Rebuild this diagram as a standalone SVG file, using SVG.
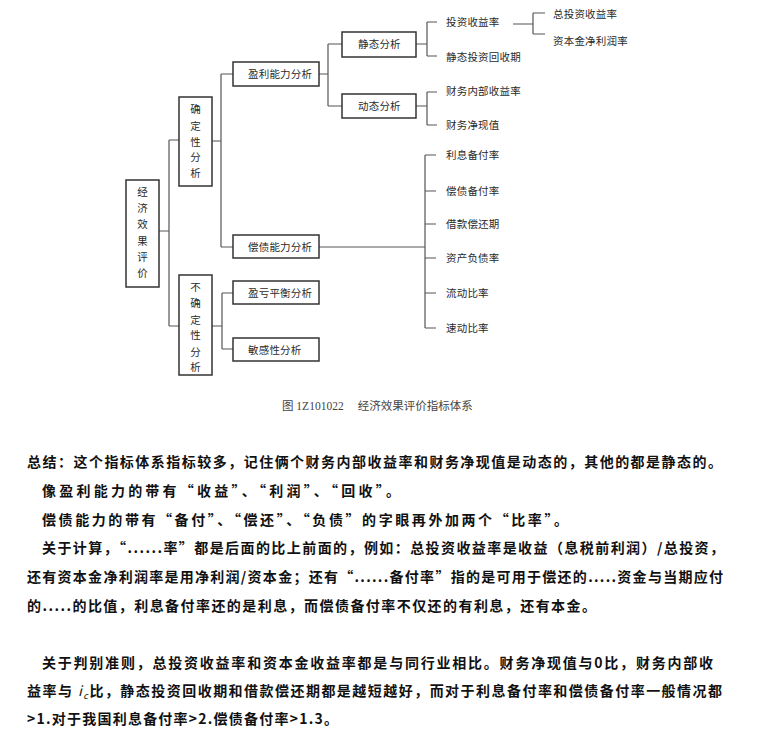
<svg xmlns="http://www.w3.org/2000/svg" width="760" height="740" viewBox="0 0 760 740">
<style>
.box{fill:#fff;stroke:#333;stroke-width:1.5}
.con{fill:none;stroke:#555;stroke-width:1.2}
.t{font-family:"Noto Sans CJK SC","Noto Sans",sans-serif;font-size:10.5px;fill:#2a2a2a;letter-spacing:0.2px}
.v{font-family:"Noto Sans CJK SC","Noto Sans",sans-serif;font-size:10.5px;fill:#2a2a2a;text-anchor:middle}
.cap{font-family:"Liberation Serif","Noto Sans CJK SC",serif;font-size:11.5px;fill:#444}
.n{font-family:"Noto Sans CJK SC",sans-serif;font-size:14px;font-weight:700;fill:#111}
</style>
<rect width="760" height="740" fill="#fff"/>
<g id="connectors">
<path class="con" d="M159,231H169M169,140V326M169,140H179M169,326H179"/>
<path class="con" d="M212,141H221M221,74V247M221,74H233M221,247H233"/>
<path class="con" d="M212,326H222M222,293V349M222,293H233M222,349H233"/>
<path class="con" d="M319,74H328M328,44V106M328,44H342M328,106H342"/>
<path class="con" d="M416,44H427M427,22V56M427,22H437M427,56H437"/>
<path class="con" d="M416,106H427M427,92V125M427,92H437M427,125H437"/>
<path class="con" d="M513,24H533M533,13V34M533,13H545M533,34H545"/>
<path class="con" d="M319,247H425M425,155V328M425,155H436M425,191H436M425,224H436M425,258H436M425,293H436M425,328H436"/>
</g>
<g id="n-root"><rect class="box" x="126" y="180" width="33" height="107"/>
<text class="v" x="142.5"><tspan x="142.5" y="196">经</tspan><tspan x="142.5" y="212">济</tspan><tspan x="142.5" y="228">效</tspan><tspan x="142.5" y="245">果</tspan><tspan x="142.5" y="261">评</tspan><tspan x="142.5" y="277">价</tspan></text></g>
<g id="n-certain"><rect class="box" x="179" y="97" width="33" height="89"/>
<text class="v"><tspan x="195.5" y="113">确</tspan><tspan x="195.5" y="130">定</tspan><tspan x="195.5" y="146">性</tspan><tspan x="195.5" y="161">分</tspan><tspan x="195.5" y="177">析</tspan></text></g>
<g id="n-uncertain"><rect class="box" x="179" y="275" width="33" height="100"/>
<text class="v"><tspan x="195.5" y="291">不</tspan><tspan x="195.5" y="307">确</tspan><tspan x="195.5" y="324">定</tspan><tspan x="195.5" y="339">性</tspan><tspan x="195.5" y="356">分</tspan><tspan x="195.5" y="371">析</tspan></text></g>
<g id="n-profit"><rect class="box" x="233" y="62" width="86" height="24"/><text class="t" x="248" y="78">盈利能力分析</text></g>
<g id="n-debt"><rect class="box" x="233" y="235" width="86" height="23"/><text class="t" x="248" y="251">偿债能力分析</text></g>
<g id="n-breakeven"><rect class="box" x="233" y="281" width="86" height="23"/><text class="t" x="248" y="297">盈亏平衡分析</text></g>
<g id="n-sensitivity"><rect class="box" x="233" y="338" width="86" height="23"/><text class="t" x="248" y="354">敏感性分析</text></g>
<g id="n-static"><rect class="box" x="342" y="32" width="74" height="25"/><text class="t" x="358" y="48">静态分析</text></g>
<g id="n-dynamic"><rect class="box" x="342" y="94" width="74" height="24"/><text class="t" x="358" y="110">动态分析</text></g>
<g id="n-roi"><text class="t" x="446" y="26">投资收益率</text></g>
<g id="n-payback"><text class="t" x="446" y="61">静态投资回收期</text></g>
<g id="n-total-roi"><text class="t" x="553" y="18">总投资收益率</text></g>
<g id="n-roe"><text class="t" x="553" y="45">资本金净利润率</text></g>
<g id="n-irr"><text class="t" x="446" y="95">财务内部收益率</text></g>
<g id="n-npv"><text class="t" x="446" y="129">财务净现值</text></g>
<g id="n-icr"><text class="t" x="446" y="159">利息备付率</text></g>
<g id="n-dscr"><text class="t" x="446" y="195">偿债备付率</text></g>
<g id="n-repay"><text class="t" x="446" y="228">借款偿还期</text></g>
<g id="n-lev"><text class="t" x="446" y="262">资产负债率</text></g>
<g id="n-cur"><text class="t" x="446" y="297">流动比率</text></g>
<g id="n-quick"><text class="t" x="446" y="332">速动比率</text></g>
<text class="cap" x="282" y="410">图 1Z101022<tspan font-family="Noto Sans CJK SC, sans-serif" dx="14">经济效果评价指标体系</tspan></text>
<g id="notes">
<text class="n" x="27" y="467" textLength="695" lengthAdjust="spacing">总结：这个指标体系指标较多，记住俩个财务内部收益率和财务净现值是动态的，其他的都是静态的。</text>
<text class="n" x="42" y="496" textLength="358" lengthAdjust="spacing">像盈利能力的带有“收益”、“利润”、“回收”。</text>
<text class="n" x="42" y="525" textLength="526" lengthAdjust="spacing">偿债能力的带有“备付”、“偿还”、“负债”的字眼再外加两个“比率”。</text>
<text class="n" x="42" y="553" textLength="682" lengthAdjust="spacing">关于计算，“......率”都是后面的比上前面的，例如：总投资收益率是收益（息税前利润）/总投资，</text>
<text class="n" x="27" y="582" textLength="696" lengthAdjust="spacing">还有资本金净利润率是用净利润/资本金；还有“......备付率”指的是可用于偿还的.....资金与当期应付</text>
<text class="n" x="27" y="611" textLength="569" lengthAdjust="spacing">的.....的比值，利息备付率还的是利息，而偿债备付率不仅还的有利息，还有本金。</text>
<text class="n" x="42" y="668" textLength="671" lengthAdjust="spacing">关于判别准则，总投资收益率和资本金收益率都是与同行业相比。财务净现值与0比，财务内部收</text>
<text class="n" x="27" y="696" textLength="695" lengthAdjust="spacing">益率与 <tspan font-style="italic" font-weight="400">i</tspan><tspan font-size="9" font-style="italic" font-weight="400" dy="3">c</tspan><tspan dy="-3">比，静态投资回收期和借款偿还期都是越短越好，而对于利息备付率和偿债备付率一般情况都</tspan></text>
<text class="n" x="27" y="724" textLength="311" lengthAdjust="spacing">&gt;1.对于我国利息备付率&gt;2.偿债备付率&gt;1.3。</text>
</g>
</svg>
